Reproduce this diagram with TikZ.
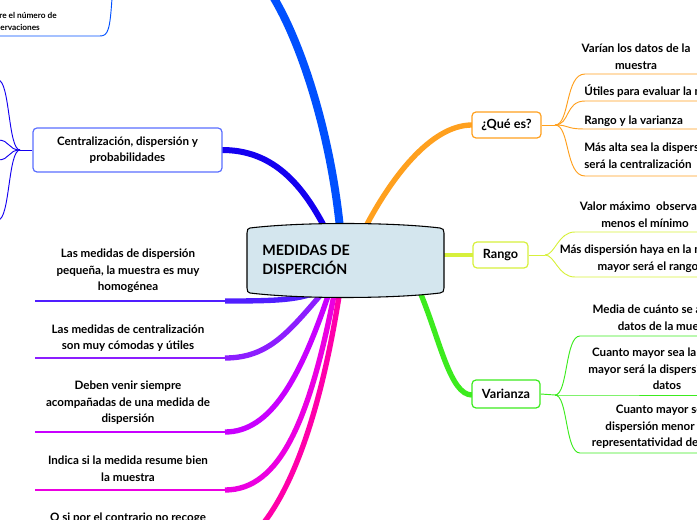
\documentclass[tikz,border=0pt]{standalone}
\usepackage{fontspec}
\setmainfont{Lato}
\begin{document}
\begin{tikzpicture}[x=0.75pt,y=-0.75pt,
  txt/.style={font=\bfseries\fontsize{8.7}{12.4}\selectfont,align=center,inner sep=0pt},
  ltxt/.style={font=\bfseries\fontsize{8.7}{12.4}\selectfont,align=left,inner sep=0pt,anchor=west},
  box/.style={draw,rounded corners=3pt,line width=0.9pt,fill=white,font=\bfseries\fontsize{8.7}{12.4}\selectfont,align=center,inner sep=0pt},
]
\useasboundingbox (0,0) rectangle (697,520);
\clip (0,0) rectangle (697,520);
\definecolor{cb1}{RGB}{0,80,255}
\definecolor{cb2}{RGB}{20,0,240}
\definecolor{cb3}{RGB}{80,30,255}
\definecolor{cb4}{RGB}{140,30,255}
\definecolor{cb5}{RGB}{200,0,255}
\definecolor{cb6}{RGB}{235,0,225}
\definecolor{cb7}{RGB}{255,0,170}
\definecolor{corange}{RGB}{255,160,30}
\definecolor{cyel}{RGB}{215,240,60}
\definecolor{cgreen}{RGB}{60,235,30}
\definecolor{cfill}{RGB}{212,230,238}
\definecolor{cbox}{RGB}{90,110,255}

\coordinate (tTop) at (272,-5);
\coordinate (tBot) at (262,525);
\coordinate (u1) at (225,301);
\coordinate (u2) at (225,358);
\coordinate (u3) at (225,432);
\coordinate (u4) at (225,490);
\draw[cb1,line width=6pt] (340,228) .. controls (330,130) and (300,40) .. (tTop);
\draw[cb2,line width=4.5pt] (325,228) .. controls (300,180) and (270,150) .. (222,150);
\draw[cb3,line width=4pt] (322,290) .. controls (300,300) and (280,301) .. (u1);
\draw[cb4,line width=4pt] (325,290) .. controls (290,330) and (270,358) .. (u2);
\draw[cb5,line width=4pt] (330,290) .. controls (300,380) and (270,432) .. (u3);
\draw[cb6,line width=4pt] (335,290) .. controls (310,420) and (280,490) .. (u4);
\draw[cb7,line width=4pt] (340,290) .. controls (320,420) and (290,490) .. (tBot);
\draw[corange,line width=4pt] (365,228) .. controls (390,180) and (430,125) .. (472,125);
\draw[cyel,line width=3pt] (440,255) -- (473,255);
\draw[cgreen,line width=4pt] (420,292) .. controls (440,340) and (450,395) .. (472,395);

\draw[cb3,line width=0.8pt] (u1) -- (35,301);
\draw[cb4,line width=0.8pt] (u2) -- (35,358);
\draw[cb5,line width=0.8pt] (u3) -- (35,432);
\draw[cb6,line width=0.8pt] (u4) -- (35,490);

\draw[line width=0.8pt,fill=cfill] (250,228) .. controls (300,222) and (390,222) .. (440,228)
  .. controls (443,228) and (444,230) .. (444,233) -- (444,288)
  .. controls (444,291) and (443,293) .. (440,293) .. controls (390,299) and (300,299) .. (250,293)
  .. controls (248,293) and (247,291) .. (247,288) -- (247,233) .. controls (247,230) and (248,228) .. (250,228) -- cycle;
\node[font=\bfseries\fontsize{10.7}{14.5}\selectfont,align=left,anchor=west,inner sep=0pt] (c) at (262,260) {MEDIDAS DE\\DISPERCIÓN};

\node[txt] (l1) at (128,271) {Las medidas de dispersión\\pequeña, la muestra es muy\\homogénea};
\node[txt] (l2) at (128,338) {Las medidas de centralización\\son muy cómodas y útiles};
\node[txt] (l3) at (128,403) {Deben venir siempre\\acompañadas de una medida de\\dispersión};
\node[txt] (l4) at (128,469) {Indica si la medida resume bien\\la muestra};
\node[txt,anchor=north] (l5) at (128,513) {O si por el contrario no recoge};

\node[box,draw=cbox,minimum width=141.75pt,minimum height=33pt] (cen) at (127.5,150) {Centralización, dispersión y\\probabilidades};
\coordinate (cf) at (20,150);
\draw[cb2,line width=0.7pt] (cen.west) -- (cf);
\foreach \yy in {80,140,160,220} \draw[cb2,line width=0.7pt] (cf) .. controls (8,150) and (10,\yy) .. (-2,\yy);
\coordinate (tl) at (100,36);
\draw[cb1,line width=0.7pt] (112,-2) .. controls (110,30) and (108,36) .. (tl) -- (-2,36);
\node[font=\bfseries\fontsize{6.2}{9}\selectfont,align=left,anchor=west,inner sep=0pt] at (-13,21) {entre el número de\\observaciones};

\node[box,draw=corange,minimum width=51.75pt,minimum height=19.5pt,font=\bfseries\fontsize{9.5}{12}\selectfont] (q) at (506.5,125) {¿Qué es?};
\coordinate (qf) at (555,125);
\draw[corange,line width=0.7pt] (q.east) -- (qf);
\foreach \yy in {74,101,129,176} \draw[corange,line width=0.7pt] (qf) .. controls (570,125) and (565,\yy) .. (585,\yy) -- (700,\yy);
\node[txt] at (636,57) {Varían los datos de la\\muestra};
\node[ltxt] at (584,91) {Útiles para evaluar la muestra};
\node[ltxt] at (584,121) {Rango y la varianza};
\node[ltxt] at (584,156) {Más alta sea la dispersión menor\\será la centralización};

\node[box,draw=cyel,minimum width=41.25pt,minimum height=19.5pt,font=\bfseries\fontsize{9.5}{12}\selectfont] (r) at (500.5,255) {Rango};
\coordinate (rf) at (545,255);
\draw[cyel,line width=0.7pt] (r.east) -- (rf);
\foreach \yy in {232,277} \draw[cyel,line width=0.7pt] (rf) .. controls (555,255) and (558,\yy) .. (575,\yy) -- (700,\yy);
\node[txt] at (645,215) {Valor máximo\ \ observado\\menos el mínimo};
\node[txt] at (648,259) {Más dispersión haya en la muestra\\mayor será el rango};

\node[box,draw=cgreen,minimum width=51pt,minimum height=21pt,font=\bfseries\fontsize{9.5}{12}\selectfont] (v) at (506,394) {Varianza};
\coordinate (vf) at (555,395);
\draw[cgreen,line width=0.7pt] (v.east) -- (vf);
\foreach \yy in {336,395,453} \draw[cgreen,line width=0.7pt] (vf) .. controls (568,395) and (565,\yy) .. (580,\yy) -- (700,\yy);
\node[txt] at (668,318) {Media de cuánto se alejan los\\datos de la muestra};
\node[txt] at (667,369) {Cuanto mayor sea la varianza\\mayor será la dispersión de los\\datos};
\node[txt] at (668,427) {Cuanto mayor sea la\\dispersión menor será la\\representatividad de la media};
\end{tikzpicture}
\end{document}
